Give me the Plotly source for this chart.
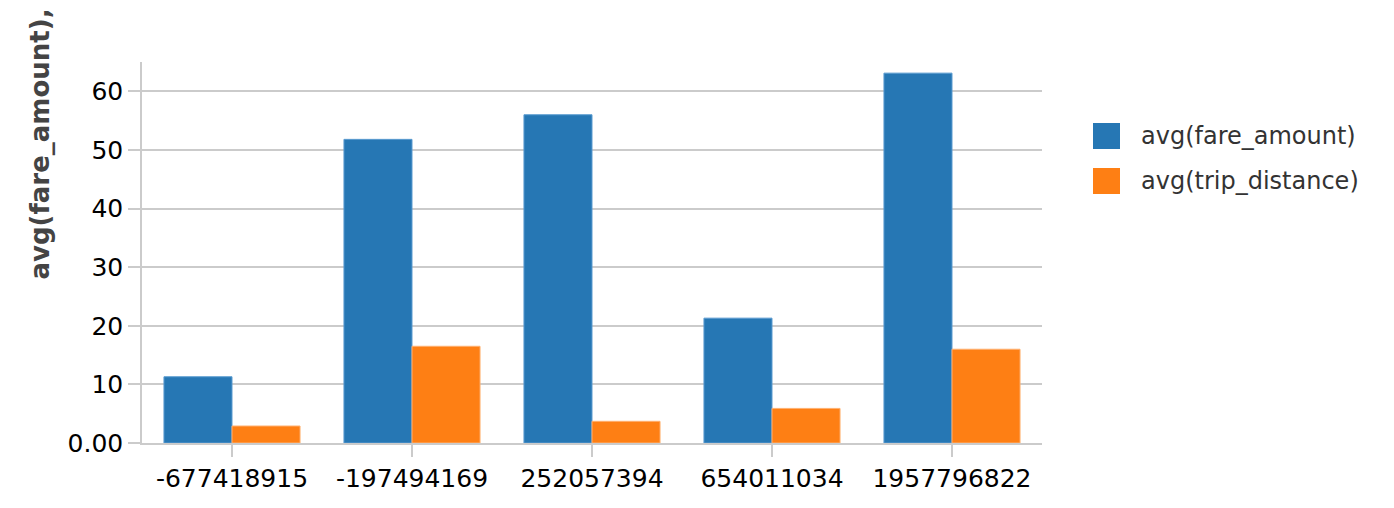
import plotly.graph_objects as go

# data
categories = ["-677418915", "-197494169", "252057394", "654011034", "1957796822"]
fare_amount = [11.3, 51.8, 56.0, 21.3, 63.1]
trip_distance = [2.9, 16.5, 3.7, 5.9, 16.0]

series_names = ["avg(fare_amount)", "avg(trip_distance)"]
series_colors = ["#2677b4", "#fe7f14"]
outline_colors = ["#5a9bd0", "#ffb070"]

y_tickvals = [0, 10, 20, 30, 40, 50, 60]
y_ticktext = ["0.00", "10", "20", "30", "40", "50", "60"]

FONT = "DejaVu Sans"
GRID = "#cbcbcb"

# page body has an 8px margin, so everything is laid out 8px up/left
L, T = 134, 54          # pixel position of the plot area's top-left corner
PW, PH = 900, 381       # plot area size


def px(x):
    return (x - L) / PW


def py(y):
    return (T + PH - y) / PH


fig = go.Figure()

for name, vals, col, lc in zip(series_names, [fare_amount, trip_distance],
                               series_colors, outline_colors):
    fig.add_trace(go.Bar(x=categories, y=vals, name=name,
                         marker=dict(color=col, line=dict(color=lc, width=1)),
                         showlegend=False))

# hand-made legend (big square swatches like the original)
legend_rows = [128, 173]   # pixel centres of the legend rows
for name, col, ry in zip(series_names, series_colors, legend_rows):
    fig.add_shape(type="rect", xref="paper", yref="paper",
                  x0=px(1085), x1=px(1112),
                  y0=py(ry - 13), y1=py(ry + 13),
                  fillcolor=col, line=dict(width=0))
    fig.add_annotation(text=name, xref="paper", yref="paper",
                       x=px(1131), y=py(ry),
                       xanchor="left", yanchor="middle", showarrow=False,
                       font=dict(family=FONT, size=24, color="#333333"))

# y axis title, rotated
fig.add_annotation(text="<b>avg(fare_amount),</b>", xref="paper", yref="paper",
                   x=px(14), y=py(274),
                   xanchor="left", yanchor="bottom", textangle=-90,
                   showarrow=False,
                   font=dict(family=FONT, size=26, color="#444444"))

fig.update_layout(
    width=L + PW + 352, height=T + PH + 65,
    margin=dict(l=L, r=352, t=T, b=65),
    plot_bgcolor="white", paper_bgcolor="white",
    bargap=0.244, bargroupgap=0,
    barmode="group",
    font=dict(family=FONT, size=25, color="black"),
    xaxis=dict(type="category", showgrid=False, showline=True,
               linecolor=GRID, linewidth=1.5,
               ticks="outside", ticklen=12, tickcolor=GRID, tickwidth=1.5,
               tickfont=dict(family=FONT, size=25, color="black")),
    yaxis=dict(range=[0, 65], tickvals=y_tickvals, ticktext=y_ticktext,
               showgrid=True, gridcolor=GRID, gridwidth=1.5,
               showline=True, linecolor=GRID, linewidth=1.5,
               ticks="outside", ticklen=12, tickcolor=GRID, tickwidth=1.5,
               zeroline=False,
               tickfont=dict(family=FONT, size=25, color="black")),
)

fig.write_html("out.html")
